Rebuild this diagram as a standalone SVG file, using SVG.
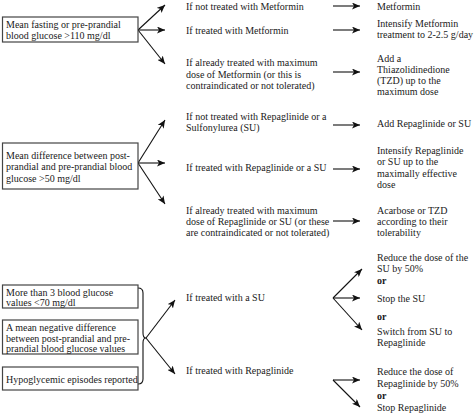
<svg xmlns="http://www.w3.org/2000/svg" width="474" height="413" viewBox="0 0 474 413">
<defs>
<marker id="ah" markerUnits="userSpaceOnUse" markerWidth="9" markerHeight="7" refX="8" refY="3.5" orient="auto">
<path d="M0,0 L8,3.5 L0,7 L2,3.5 Z" fill="#111"/>
</marker>
<style>
text{font-family:"Liberation Serif","Times New Roman",serif;font-size:10px;fill:#1a1a1a}
.b{font-weight:bold}
.box{fill:#fff;stroke:#444;stroke-width:1.2}
.c line,.c path{stroke:#111;stroke-width:1.1;fill:none}
.c line{marker-end:url(#ah)}
</style>
</defs>
<rect width="474" height="413" fill="#fff"/>

<g class="c" id="connectors">
<line x1="138" y1="30" x2="165" y2="5"/>
<line x1="138" y1="30" x2="165" y2="30"/>
<line x1="138" y1="30" x2="165" y2="64"/>
<line x1="333" y1="6" x2="360" y2="6"/>
<line x1="333" y1="30" x2="360" y2="30"/>
<line x1="333" y1="72" x2="360" y2="72"/>
<line x1="138" y1="163" x2="165" y2="120"/>
<line x1="138" y1="163" x2="165" y2="163"/>
<line x1="138" y1="163" x2="165" y2="204"/>
<line x1="333" y1="125" x2="360" y2="125"/>
<line x1="333" y1="169" x2="360" y2="169"/>
<line x1="333" y1="221" x2="360" y2="221"/>
<path d="M138,288 Q143,288 143,293 L143,333 Q143,338 146,338 Q143,338 143,343 L143,379 Q143,384 138,384"/>
<line x1="146" y1="338" x2="175" y2="300"/>
<line x1="146" y1="338" x2="175" y2="374"/>
<line x1="333" y1="298" x2="362" y2="269"/>
<line x1="333" y1="298" x2="360" y2="298"/>
<line x1="333" y1="298" x2="362" y2="330"/>
<line x1="333" y1="380" x2="360" y2="380"/>
<line x1="333" y1="380" x2="360" y2="407"/>
</g>

<g id="n-fasting"><rect class="box" x="2.5" y="17" width="135.5" height="25"/>
<text x="6" y="28">Mean fasting or pre-prandial</text>
<text x="6" y="39">blood glucose &gt;110 mg/dl</text></g>

<g id="n-not-metformin"><text x="186" y="9.5">If not treated with Metformin</text></g>
<g id="n-treated-metformin"><text x="186" y="33.5">If treated with Metformin</text></g>
<g id="n-max-metformin"><text x="186" y="66">If already treated with maximum</text>
<text x="186" y="77.5">dose of Metformin (or this is</text>
<text x="186" y="89">contraindicated or not tolerated)</text></g>

<g id="r-metformin"><text x="377" y="9.5">Metformin</text></g>
<g id="r-intensify-metformin"><text x="377" y="26.5">Intensify Metformin</text>
<text x="377" y="37.5">treatment to 2-2.5 g/day</text></g>
<g id="r-tzd"><text x="377" y="61.5">Add a</text>
<text x="377" y="72.5">Thiazolidinedione</text>
<text x="377" y="83.5">(TZD) up to the</text>
<text x="377" y="94.5">maximum dose</text></g>

<g id="n-postprandial"><rect class="box" x="2.5" y="143" width="135.5" height="46"/>
<text x="6" y="158.5">Mean difference between post-</text>
<text x="6" y="170">prandial and pre-prandial blood</text>
<text x="6" y="181.5">glucose &gt;50 mg/dl</text></g>

<g id="n-not-repag"><text x="186" y="119.5">If not treated with Repaglinide or a</text>
<text x="186" y="130.5">Sulfonylurea (SU)</text></g>
<g id="n-treated-repag"><text x="186" y="171">If treated with Repaglinide or a SU</text></g>
<g id="n-max-repag"><text x="186" y="213.5">If already treated with maximum</text>
<text x="186" y="224.5">dose of Repaglinide or SU (or these</text>
<text x="186" y="235.5">are contraindicated or not tolerated)</text></g>

<g id="r-add-repag"><text x="377" y="127">Add Repaglinide or SU</text></g>
<g id="r-intensify-repag"><text x="377" y="153.5">Intensify Repaglinide</text>
<text x="377" y="165">or SU up to the</text>
<text x="377" y="176.5">maximally effective</text>
<text x="377" y="188">dose</text></g>
<g id="r-acarbose"><text x="377" y="213.5">Acarbose or TZD</text>
<text x="377" y="224.5">according to their</text>
<text x="377" y="235.5">tolerability</text></g>

<g id="n-low-values"><rect class="box" x="2.5" y="285" width="135.5" height="23"/>
<text x="6" y="295.5">More than 3 blood glucose</text>
<text x="6" y="305.5">values &lt;70 mg/dl</text></g>
<g id="n-neg-diff"><rect class="box" x="2.5" y="320" width="135.5" height="34"/>
<text x="6" y="330.5">A mean negative difference</text>
<text x="6" y="341.5">between post-prandial and pre-</text>
<text x="6" y="352">prandial blood glucose values</text></g>
<g id="n-hypo"><rect class="box" x="2.5" y="367" width="135.5" height="23"/>
<text x="6" y="382.5">Hypoglycemic episodes reported</text></g>

<g id="n-with-su"><text x="186" y="300.5">If treated with a SU</text></g>
<g id="n-with-repag"><text x="186" y="373.5">If treated with Repaglinide</text></g>

<g id="r-su-options"><text x="377" y="260.5">Reduce the dose of the</text>
<text x="377" y="271.5">SU by 50%</text>
<text class="b" x="377" y="283.5">or</text>
<text x="377" y="301.5">Stop the SU</text>
<text class="b" x="377" y="319.5">or</text>
<text x="377" y="334.5">Switch from SU to</text>
<text x="377" y="345.5">Repaglinide</text></g>

<g id="r-repag-options"><text x="377" y="375">Reduce the dose of</text>
<text x="377" y="387">Repaglinide by 50%</text>
<text class="b" x="377" y="399">or</text>
<text x="377" y="410.5">Stop Repaglinide</text></g>
</svg>
